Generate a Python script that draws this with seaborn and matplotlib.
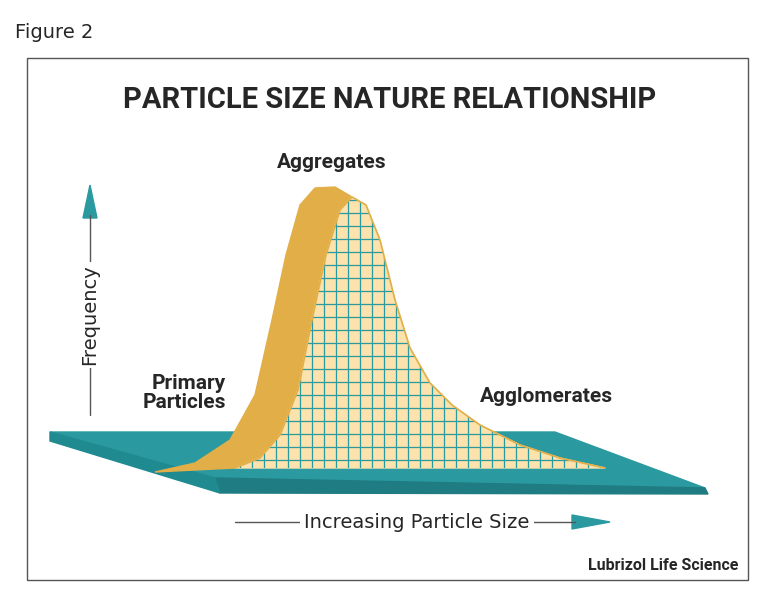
import matplotlib
matplotlib.use("Agg")
import matplotlib.pyplot as plt
import seaborn as sns
import numpy as np
import pandas as pd
from matplotlib.patches import Polygon, FancyArrow

# Data (image pixel coordinates of the illustrative distribution)
front_x = [235, 260, 280, 298, 312, 326, 340, 352, 366, 380, 395, 410, 430, 452, 480, 520, 560, 605]
front_y = [468, 458, 435, 390, 320, 255, 210, 197, 205, 240, 300, 348, 383, 405, 425, 445, 458, 468]
back_x = [155, 195, 230, 255, 272, 286, 300, 315, 335, 352]
back_y = [472, 463, 440, 395, 320, 255, 205, 188, 187, 197]
title = "PARTICLE SIZE NATURE RELATIONSHIP"
labels = ["Primary\nParticles", "Aggregates", "Agglomerates"]

sns.set_theme(style="white")
fig = plt.figure(figsize=(7.68, 5.99), dpi=100)
ax = fig.add_axes([0, 0, 1, 1])
ax.set_xlim(0, 768); ax.set_ylim(599, 0); ax.axis("off")

fig.text(15/768, 1-32/599, "Figure 2", fontsize=14, va="center", family="DejaVu Sans")
ax.add_patch(plt.Rectangle((27, 58), 721, 522, fill=False, ec="#555555", lw=1))
ax.text(390, 100, title, fontsize=21, fontweight="bold", ha="center", va="center", family="Roboto")

teal, teal_d, teal_l = "#2A9AA0", "#1E7C82", "#3BB0B5"
ax.add_patch(Polygon([(50, 432), (555, 432), (705, 488), (215, 478)], color=teal))
ax.add_patch(Polygon([(215, 478), (705, 488), (708, 494), (220, 493)], color=teal_d))
ax.add_patch(Polygon([(50, 432), (215, 478), (220, 493), (50, 441)], color="#1F8A90"))

# orange ribbon
rib = list(zip(back_x, back_y)) + list(zip(front_x[:8], front_y[:8]))[::-1]
ax.add_patch(Polygon(rib, color="#E2AE48", zorder=2))
# front face
face = Polygon(list(zip(front_x, front_y)), color="#FCE2AC", zorder=3)
ax.add_patch(face)
for gx in np.arange(240, 610, 12):
    l, = ax.plot([gx, gx], [180, 470], color=teal, lw=0.9, zorder=4)
    l.set_clip_path(face)
for gy in np.arange(200, 470, 13):
    l, = ax.plot([230, 610], [gy, gy], color=teal, lw=0.9, zorder=4)
    l.set_clip_path(face)
sns.lineplot(data=pd.DataFrame({"x": front_x, "y": front_y}), x="x", y="y", sort=False,
             ax=ax, color="#E2AE48", lw=1.2, zorder=5)
ax.set_xlim(0, 768); ax.set_ylim(599, 0); ax.axis("off")

# axes arrows
ax.plot([90, 90], [415, 215], color="#555555", lw=1)
ax.add_patch(Polygon([(83, 218), (90, 185), (97, 218)], color=teal))
ax.text(90, 315, "Frequency", rotation=90, fontsize=14, ha="center", va="center",
        family="DejaVu Sans", bbox=dict(fc="white", ec="none", pad=2))
ax.plot([235, 575], [522, 522], color="#555555", lw=1)
ax.add_patch(Polygon([(572, 515), (610, 522), (572, 529)], color=teal))
ax.text(417, 522, "Increasing Particle Size", fontsize=14, ha="center", va="center",
        family="DejaVu Sans", bbox=dict(fc="white", ec="none", pad=3))

ax.text(226, 393, labels[0], fontsize=15, fontweight="bold", ha="right", va="center",
        family="Roboto", linespacing=1.0)
ax.text(332, 163, labels[1], fontsize=15, fontweight="bold", ha="center", va="center", family="Roboto")
ax.text(546, 397, labels[2], fontsize=15, fontweight="bold", ha="center", va="center", family="Roboto")
ax.text(738, 565, "Lubrizol Life Science", fontsize=11.5, fontweight="bold", ha="right",
        va="center", family="Roboto")

fig.savefig("out.png", dpi=100)
